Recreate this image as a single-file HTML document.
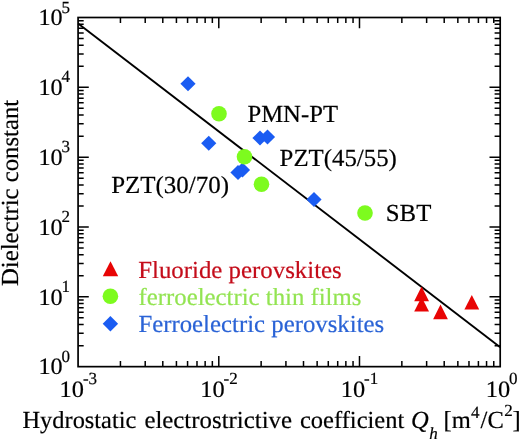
<!DOCTYPE html>
<html><head><meta charset="utf-8"><title>Dielectric constant vs electrostrictive coefficient</title>
<style>html,body{margin:0;padding:0;background:#fff}svg{display:block}</style></head>
<body>
<svg width="520" height="443" viewBox="0 0 520 443">
<rect width="520" height="443" fill="#fff"/>
<line x1="78.08" y1="23.5" x2="500.2" y2="347.2" stroke="#000" stroke-width="1.9"/>
<polygon points="188,76.15 195.6,83.75 188,91.35 180.4,83.75" fill="#1a5cf2"/>
<polygon points="208.75,135.65 216.35,143.25 208.75,150.85 201.15,143.25" fill="#1a5cf2"/>
<polygon points="238,164.9 245.6,172.5 238,180.1 230.4,172.5" fill="#1a5cf2"/>
<polygon points="242.5,162.4 250.1,170 242.5,177.6 234.9,170" fill="#1a5cf2"/>
<polygon points="260,130.4 267.6,138 260,145.6 252.4,138" fill="#1a5cf2"/>
<polygon points="267.5,129.4 275.1,137 267.5,144.6 259.9,137" fill="#1a5cf2"/>
<polygon points="314,191.9 321.6,199.5 314,207.1 306.4,199.5" fill="#1a5cf2"/>
<circle cx="219" cy="113.75" r="7.8" fill="#7dfb1e"/>
<circle cx="244.5" cy="156.75" r="7.8" fill="#7dfb1e"/>
<circle cx="261.5" cy="184.25" r="7.8" fill="#7dfb1e"/>
<circle cx="365" cy="213" r="7.8" fill="#7dfb1e"/>
<polygon points="421.6,297.0 429.0,311.6 414.20000000000005,311.6" fill="#e80404"/>
<polygon points="421.6,286.6 429.0,301.20000000000005 414.20000000000005,301.20000000000005" fill="#e80404"/>
<polygon points="440.5,304.6 447.9,319.20000000000005 433.1,319.20000000000005" fill="#e80404"/>
<polygon points="471.8,295.0 479.2,309.6 464.40000000000003,309.6" fill="#e80404"/>
<polygon points="110.5,261.3 118.2,276.3 102.8,276.3" fill="#e80404"/>
<circle cx="110.4" cy="296.2" r="7.8" fill="#7dfb1e"/>
<polygon points="110.4,316.1 118.10000000000001,323.8 110.4,331.5 102.7,323.8" fill="#1a5cf2"/>
<rect x="78.08" y="17.5" width="422.12" height="349.15" fill="none" stroke="#000" stroke-width="1.7"/>
<path d="M78.08 345.63h5.6M500.2 345.63h-5.6M78.08 333.33h5.6M500.2 333.33h-5.6M78.08 324.61h5.6M500.2 324.61h-5.6M78.08 317.84h5.6M500.2 317.84h-5.6M78.08 312.31h5.6M500.2 312.31h-5.6M78.08 307.64h5.6M500.2 307.64h-5.6M78.08 303.59h5.6M500.2 303.59h-5.6M78.08 300.02h5.6M500.2 300.02h-5.6M78.08 296.82h10.7M500.2 296.82h-10.7M78.08 275.80h5.6M500.2 275.80h-5.6M78.08 263.50h5.6M500.2 263.50h-5.6M78.08 254.78h5.6M500.2 254.78h-5.6M78.08 248.01h5.6M500.2 248.01h-5.6M78.08 242.48h5.6M500.2 242.48h-5.6M78.08 237.81h5.6M500.2 237.81h-5.6M78.08 233.76h5.6M500.2 233.76h-5.6M78.08 230.19h5.6M500.2 230.19h-5.6M78.08 226.99h10.7M500.2 226.99h-10.7M78.08 205.97h5.6M500.2 205.97h-5.6M78.08 193.67h5.6M500.2 193.67h-5.6M78.08 184.95h5.6M500.2 184.95h-5.6M78.08 178.18h5.6M500.2 178.18h-5.6M78.08 172.65h5.6M500.2 172.65h-5.6M78.08 167.98h5.6M500.2 167.98h-5.6M78.08 163.93h5.6M500.2 163.93h-5.6M78.08 160.36h5.6M500.2 160.36h-5.6M78.08 157.16h10.7M500.2 157.16h-10.7M78.08 136.14h5.6M500.2 136.14h-5.6M78.08 123.84h5.6M500.2 123.84h-5.6M78.08 115.12h5.6M500.2 115.12h-5.6M78.08 108.35h5.6M500.2 108.35h-5.6M78.08 102.82h5.6M500.2 102.82h-5.6M78.08 98.15h5.6M500.2 98.15h-5.6M78.08 94.10h5.6M500.2 94.10h-5.6M78.08 90.53h5.6M500.2 90.53h-5.6M78.08 87.33h10.7M500.2 87.33h-10.7M78.08 66.31h5.6M500.2 66.31h-5.6M78.08 54.01h5.6M500.2 54.01h-5.6M78.08 45.29h5.6M500.2 45.29h-5.6M78.08 38.52h5.6M500.2 38.52h-5.6M78.08 32.99h5.6M500.2 32.99h-5.6M78.08 28.32h5.6M500.2 28.32h-5.6M78.08 24.27h5.6M500.2 24.27h-5.6M78.08 20.70h5.6M500.2 20.70h-5.6M120.44 17.5v5.6M120.44 366.65v-5.6M145.21 17.5v5.6M145.21 366.65v-5.6M162.79 17.5v5.6M162.79 366.65v-5.6M176.43 17.5v5.6M176.43 366.65v-5.6M187.57 17.5v5.6M187.57 366.65v-5.6M196.99 17.5v5.6M196.99 366.65v-5.6M205.15 17.5v5.6M205.15 366.65v-5.6M212.35 17.5v5.6M212.35 366.65v-5.6M218.79 17.5v10.7M218.79 366.65v-10.7M261.14 17.5v5.6M261.14 366.65v-5.6M285.92 17.5v5.6M285.92 366.65v-5.6M303.50 17.5v5.6M303.50 366.65v-5.6M317.14 17.5v5.6M317.14 366.65v-5.6M328.28 17.5v5.6M328.28 366.65v-5.6M337.70 17.5v5.6M337.70 366.65v-5.6M345.86 17.5v5.6M345.86 366.65v-5.6M353.05 17.5v5.6M353.05 366.65v-5.6M359.49 17.5v10.7M359.49 366.65v-10.7M401.85 17.5v5.6M401.85 366.65v-5.6M426.63 17.5v5.6M426.63 366.65v-5.6M444.21 17.5v5.6M444.21 366.65v-5.6M457.84 17.5v5.6M457.84 366.65v-5.6M468.98 17.5v5.6M468.98 366.65v-5.6M478.40 17.5v5.6M478.40 366.65v-5.6M486.56 17.5v5.6M486.56 366.65v-5.6M493.76 17.5v5.6M493.76 366.65v-5.6" stroke="#000" stroke-width="1.5" fill="none"/>
<g font-family="'Liberation Serif', 'Times New Roman', serif" font-size="24.5" fill="#000" stroke="#000" stroke-width="0.2" text-rendering="geometricPrecision">
<text id="y0" x="38.4" y="374.35" textLength="24.2" lengthAdjust="spacingAndGlyphs" font-size="23.4">10</text>
<text id="y0s" x="61.5" y="361.75" font-size="17">0</text>
<text id="y1" x="38.4" y="304.52" textLength="24.2" lengthAdjust="spacingAndGlyphs" font-size="23.4">10</text>
<text id="y1s" x="61.5" y="291.92" font-size="17">1</text>
<text id="y2" x="38.4" y="234.69" textLength="24.2" lengthAdjust="spacingAndGlyphs" font-size="23.4">10</text>
<text id="y2s" x="61.5" y="222.09" font-size="17">2</text>
<text id="y3" x="38.4" y="164.86" textLength="24.2" lengthAdjust="spacingAndGlyphs" font-size="23.4">10</text>
<text id="y3s" x="61.5" y="152.26" font-size="17">3</text>
<text id="y4" x="38.4" y="95.03" textLength="24.2" lengthAdjust="spacingAndGlyphs" font-size="23.4">10</text>
<text id="y4s" x="61.5" y="82.43" font-size="17">4</text>
<text id="y5" x="38.4" y="25.20" textLength="24.2" lengthAdjust="spacingAndGlyphs" font-size="23.4">10</text>
<text id="y5s" x="61.5" y="12.60" font-size="17">5</text>
<text id="x3" x="59.5" y="396.9" textLength="24.4" lengthAdjust="spacingAndGlyphs" font-size="23.4">10</text>
<text id="x3s" x="82.9" y="383.8" font-size="17">-3</text>
<text id="x2" x="200.2" y="396.9" textLength="24.4" lengthAdjust="spacingAndGlyphs" font-size="23.4">10</text>
<text id="x2s" x="223.6" y="383.8" font-size="17">-2</text>
<text id="x1" x="340.7" y="396.9" textLength="24.4" lengthAdjust="spacingAndGlyphs" font-size="23.4">10</text>
<text id="x1s" x="364.1" y="383.8" font-size="17">-1</text>
<text id="x0" x="485.7" y="396.9" textLength="24.4" lengthAdjust="spacingAndGlyphs" font-size="23.4">10</text>
<text id="x0s" x="509.1" y="383.8" font-size="17">0</text>
<text id="w1" x="22.5" y="428.4" textLength="113.8" lengthAdjust="spacingAndGlyphs">Hydrostatic</text>
<text id="w2" x="144.4" y="428.4" textLength="147.6" lengthAdjust="spacingAndGlyphs">electrostrictive</text>
<text id="w3" x="300" y="428.4">coefficient</text>
<text id="Q" x="411.0" y="428.4" font-style="italic">Q</text>
<text id="h" x="429.2" y="438.59999999999997" font-style="italic" font-size="17">h</text>
<text id="br" x="443.5" y="428.4">[m</text>
<text id="s4" x="471" y="418.0" font-size="17">4</text>
<text id="sl" x="480.6" y="428.4">/C</text>
<text id="s2" x="504.2" y="415.79999999999995" font-size="17">2</text>
<text id="rb" x="512.4" y="428.4">]</text>
<text id="yl" transform="translate(18.3,286.0) rotate(-90)" textLength="186.2" lengthAdjust="spacingAndGlyphs">Dielectric constant</text>
<text id="pmn" x="247.4" y="121.5" textLength="90.6" lengthAdjust="spacingAndGlyphs">PMN-PT</text>
<text id="p45" x="279.6" y="165.8" textLength="117.3" lengthAdjust="spacingAndGlyphs">PZT(45/55)</text>
<text id="p30" x="111.2" y="193.1" textLength="117.8" lengthAdjust="spacingAndGlyphs">PZT(30/70)</text>
<text id="sbt" x="385.8" y="220.8" textLength="45.5" lengthAdjust="spacingAndGlyphs">SBT</text>
<text id="l1" x="138.2" y="277.6" textLength="203.6" lengthAdjust="spacingAndGlyphs" fill="#c40c1a" stroke="#c40c1a">Fluoride perovskites</text>
<text id="l2" x="138.6" y="304.5" textLength="222.8" lengthAdjust="spacingAndGlyphs" fill="#93e452" stroke="#93e452">ferroelectric thin films</text>
<text id="l3" x="138.4" y="331.9" textLength="245.8" lengthAdjust="spacingAndGlyphs" fill="#2a63d6" stroke="#2a63d6">Ferroelectric perovskites</text>
</g>
</svg>
</body></html>
